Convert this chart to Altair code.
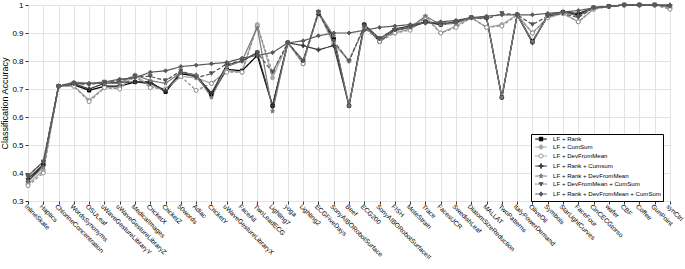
import altair as alt
import pandas as pd

categories = ["InlineSkate","Haptics","ChlorineConcentration","WordsSynonyms","OSULeaf",
    "uWaveGestureLibraryY","uWaveGestureLibraryZ","MedicalImages","CricketX","CricketZ",
    "50words","Adiac","CricketY","uWaveGestureLibraryX","FaceAll","TwoLeadECG","Lighting7",
    "yoga","Lighting2","ECGFiveDays","SonyAIBORobotSurface","Beef","ECG200",
    "SonyAIBORobotSurfaceII","FISH","MoteStrain","Trace","FacesUCR","SwedishLeaf",
    "DiatomSizeReduction","MALLAT","TwoPatterns","ItalyPowerDemand","OliveOil","Symbols",
    "StarLightCurves","FaceFour","CinCECGtorso","wafer","CBF","Coffee","GunPoint","synCtrl"]

series_names = ["LF + Rank","LF + CumSum","LF + DevFromMean","LF + Rank + Cumsum",
    "LF + Rank + DevFromMean","LF + DevFromMean + CumSum","LF + Rank + DevFromMean + CumSum"]

s_rank = [0.37,0.43,0.71,0.715,0.695,0.71,0.71,0.725,0.725,0.69,0.755,0.745,0.68,0.77,0.765,0.82,0.64,0.865,0.80,0.97,0.88,0.64,0.93,0.87,0.91,0.92,0.94,0.93,0.94,0.955,0.955,0.67,0.965,0.87,0.96,0.975,0.965,0.99,0.995,1.0,1.0,1.0,0.995]
s_cumsum = [0.36,0.41,0.71,0.71,0.66,0.705,0.705,0.75,0.71,0.70,0.745,0.74,0.72,0.765,0.76,0.93,0.74,0.865,0.79,0.975,0.86,0.80,0.92,0.88,0.90,0.915,0.96,0.90,0.925,0.955,0.92,0.93,0.965,0.90,0.955,0.97,0.94,0.985,0.995,1.0,1.0,1.0,0.99]
s_dev = [0.355,0.40,0.71,0.71,0.655,0.705,0.70,0.745,0.705,0.70,0.745,0.695,0.72,0.76,0.76,0.925,0.76,0.865,0.79,0.975,0.87,0.80,0.92,0.87,0.90,0.91,0.955,0.90,0.92,0.955,0.92,0.925,0.965,0.90,0.955,0.97,0.94,0.985,0.995,1.0,1.0,1.0,0.985]
s_rank_cum = [0.38,0.43,0.71,0.72,0.70,0.72,0.725,0.725,0.72,0.695,0.76,0.75,0.685,0.785,0.80,0.83,0.64,0.865,0.855,0.84,0.855,0.64,0.93,0.88,0.915,0.925,0.94,0.93,0.94,0.955,0.955,0.67,0.965,0.865,0.965,0.975,0.97,0.99,0.995,1.0,1.0,1.0,1.0]
s_rank_dev = [0.37,0.42,0.71,0.725,0.72,0.72,0.72,0.75,0.73,0.72,0.76,0.75,0.67,0.78,0.80,0.92,0.62,0.865,0.80,0.975,0.89,0.64,0.92,0.88,0.91,0.92,0.96,0.93,0.935,0.955,0.955,0.67,0.965,0.87,0.96,0.975,0.96,0.99,0.995,1.0,1.0,1.0,0.995]
s_dev_cum = [0.39,0.44,0.71,0.72,0.715,0.725,0.73,0.745,0.745,0.73,0.765,0.74,0.755,0.79,0.80,0.83,0.76,0.865,0.80,0.975,0.87,0.80,0.925,0.88,0.91,0.92,0.94,0.935,0.94,0.955,0.95,0.97,0.965,0.93,0.96,0.97,0.955,0.99,0.995,1.0,1.0,1.0,0.995]
s_all = [0.39,0.44,0.71,0.72,0.72,0.725,0.735,0.74,0.76,0.765,0.78,0.785,0.79,0.795,0.81,0.82,0.83,0.865,0.872,0.89,0.90,0.90,0.91,0.92,0.925,0.93,0.935,0.94,0.945,0.955,0.96,0.965,0.965,0.965,0.97,0.975,0.98,0.99,0.995,1.0,1.0,1.0,1.0]

all_series = [s_rank, s_cumsum, s_dev, s_rank_cum, s_rank_dev, s_dev_cum, s_all]

rows = []
for name, vals in zip(series_names, all_series):
    for c, v in zip(categories, vals):
        rows.append({"dataset": c, "method": name, "acc": v})
df = pd.DataFrame(rows)

# legend-only rows (no accuracy value -> no mark drawn, but legend entries remain)
df_leg = pd.DataFrame({"dataset": [categories[0]] * len(series_names),
                       "method": series_names, "acc": [None] * len(series_names)})

colors = ["#000000", "#a8a8a8", "#8c8c8c", "#3a3a3a", "#7a7a7a", "#555555", "#5a5a5a"]
fills = ["#000000", "#a8a8a8", "#ffffff", "#3a3a3a", "#7a7a7a", "#555555", "#5a5a5a"]
dashes = [[1, 0], [1, 0], [3, 2], [1, 0], [1, 0], [4, 2], [1, 0]]
widths = [1.3, 1.2, 1.0, 1.3, 1.2, 1.2, 2.0]

star = "M0,-1L0.24,-0.33L0.95,-0.31L0.38,0.12L0.59,0.81L0,0.4L-0.59,0.81L-0.38,0.12L-0.95,-0.31L-0.24,-0.33Z"
square = "M-0.8,-0.8L0.8,-0.8L0.8,0.8L-0.8,0.8Z"
circle = "M-0.9,0A0.9,0.9,0,1,0,0.9,0A0.9,0.9,0,1,0,-0.9,0Z"
plus = "M-0.2,-1L0.2,-1L0.2,-0.2L1,-0.2L1,0.2L0.2,0.2L0.2,1L-0.2,1L-0.2,0.2L-1,0.2L-1,-0.2L-0.2,-0.2Z"
tri_down = "M-0.9,-0.6L0.9,-0.6L0,0.9Z"
diamond = "M0,-1L0.9,0L0,1L-0.9,0Z"
shapes = [square, "circle", "circle", plus, star, "triangle-down", "diamond"]

solid = "M-2.6,0L-1,0M1,0L2.6,0"
dashed = "M-2.6,0L-2.0,0M-1.6,0L-1,0M1,0L1.6,0M2.0,0L2.6,0"
leg_shapes = [solid + square, solid + circle, dashed + circle, solid + plus,
              solid + star, dashed + tri_down, solid + diamond]

color_scale = alt.Scale(domain=series_names, range=colors)
fill_scale = alt.Scale(domain=series_names, range=fills)

x = alt.X("dataset:N", sort=categories, scale=alt.Scale(type="point", padding=0),
          axis=alt.Axis(title=None, labelAngle=45, labelAlign="left", labelBaseline="middle",
                        labelFontSize=6.6, labelFont="Liberation Sans", labelColor="#000000",
                        grid=True, gridColor="#e3e3e3", tickColor="#333333", tickSize=3,
                        domain=False, labelPadding=1, labelOffset=-3, labelOverlap=False))
y = alt.Y("acc:Q", scale=alt.Scale(domain=[0.3, 1.0], nice=False),
          axis=alt.Axis(title="Classification Accuracy", values=[0.3,0.4,0.5,0.6,0.7,0.8,0.9,1.0],
                        format="~g", labelFontSize=8, labelFont="Liberation Sans",
                        labelColor="#000000", titleFontSize=9, titleFont="Liberation Sans",
                        titleFontWeight="normal", titleColor="#000000", titlePadding=2,
                        grid=True, gridColor="#e3e3e3", tickColor="#333333", tickSize=3,
                        domain=False))

lines = alt.Chart(df).mark_line().encode(
    x=x, y=y,
    color=alt.Color("method:N", scale=color_scale, legend=None, sort=series_names),
    strokeDash=alt.StrokeDash("method:N", scale=alt.Scale(domain=series_names, range=dashes),
                              legend=None, sort=series_names),
    strokeWidth=alt.StrokeWidth("method:N", scale=alt.Scale(domain=series_names, range=widths),
                                legend=None, sort=series_names),
)

points = alt.Chart(df).mark_point(size=16, strokeWidth=1, opacity=1).encode(
    x=x, y=y,
    color=alt.Color("method:N", scale=color_scale, legend=None, sort=series_names),
    shape=alt.Shape("method:N", scale=alt.Scale(domain=series_names, range=shapes),
                    legend=None, sort=series_names),
    fill=alt.Fill("method:N", scale=fill_scale, legend=None, sort=series_names),
)

leg = alt.Legend(title=None, orient="none", legendX=503, legendY=129,
                 strokeColor="#000000", fillColor="#ffffff", padding=2,
                 labelFontSize=6.1, labelFont="Liberation Sans", labelColor="#000000",
                 symbolSize=20, rowPadding=0, symbolStrokeWidth=1, labelLimit=200,
                 symbolOffset=5, labelOffset=9)

legend_layer = alt.Chart(df_leg).mark_point(size=20, strokeWidth=1, opacity=1).encode(
    x=x, y=y,
    shape=alt.Shape("method:N", scale=alt.Scale(domain=series_names, range=leg_shapes),
                    legend=leg, sort=series_names),
    stroke=alt.Stroke("method:N", scale=color_scale, legend=leg, sort=series_names),
    fill=alt.Fill("method:N", scale=fill_scale, legend=leg, sort=series_names),
)

chart = alt.layer(lines, points, legend_layer).resolve_scale(
    shape="independent", fill="independent", stroke="independent"
).resolve_legend(
    shape="independent", fill="independent", stroke="independent"
).properties(
    width=642, height=196,
    autosize=alt.AutoSizeParams(type="none"),
    padding={"left": 28, "top": 5, "right": 15, "bottom": 68},
).configure_view(stroke="#333333", strokeWidth=1).configure(background="#ffffff")

chart.save("out.html", embed_options={"renderer": "svg", "actions": False})
